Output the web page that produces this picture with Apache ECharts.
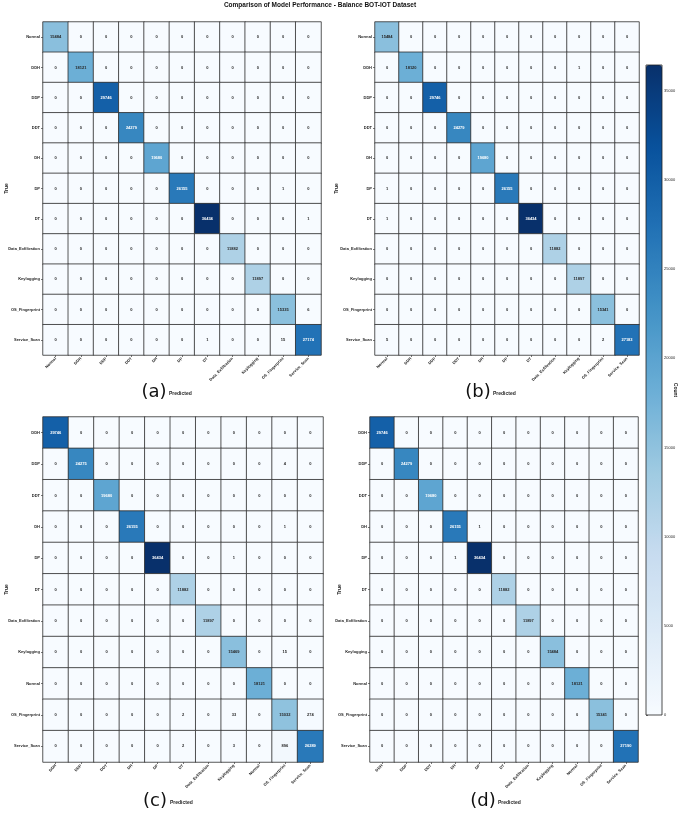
<!DOCTYPE html>
<html>
<head>
<meta charset="utf-8">
<script src="https://cdn.jsdelivr.net/npm/echarts@6/dist/echarts.min.js"></script>
<style>
  html, body { margin: 0; padding: 0; background: #ffffff; }
  #chart { width: 685px; height: 813px; }
</style>
</head>
<body>
<div id="chart"></div>
<script>
// Class orders used by the two pairs of confusion matrices
const labelsAB = ['Normal', 'DDH', 'DDP', 'DDT', 'DH', 'DP', 'DT', 'Data_Exfiltration', 'Keylogging', 'OS_Fingerprint', 'Service_Scan'];
const labelsCD = ['DDH', 'DDP', 'DDT', 'DH', 'DP', 'DT', 'Data_Exfiltration', 'Keylogging', 'Normal', 'OS_Fingerprint', 'Service_Scan'];

// Rows = true class, columns = predicted class
const matrixA = [
  [15484, 0, 0, 0, 0, 0, 0, 0, 0, 0, 0],
  [0, 18121, 0, 0, 0, 0, 0, 0, 0, 0, 0],
  [0, 0, 29746, 0, 0, 0, 0, 0, 0, 0, 0],
  [0, 0, 0, 24279, 0, 0, 0, 0, 0, 0, 0],
  [0, 0, 0, 0, 19680, 0, 0, 0, 0, 0, 0],
  [0, 0, 0, 0, 0, 26155, 0, 0, 0, 1, 0],
  [0, 0, 0, 0, 0, 0, 36434, 0, 0, 0, 1],
  [0, 0, 0, 0, 0, 0, 0, 11882, 0, 0, 0],
  [0, 0, 0, 0, 0, 0, 0, 0, 11897, 0, 0],
  [0, 0, 0, 0, 0, 0, 0, 0, 0, 15335, 6],
  [0, 0, 0, 0, 0, 0, 1, 0, 0, 15, 27174]
];
const matrixB = [
  [15484, 0, 0, 0, 0, 0, 0, 0, 0, 0, 0],
  [0, 18120, 0, 0, 0, 0, 0, 0, 1, 0, 0],
  [0, 0, 29746, 0, 0, 0, 0, 0, 0, 0, 0],
  [0, 0, 0, 24279, 0, 0, 0, 0, 0, 0, 0],
  [0, 0, 0, 0, 19680, 0, 0, 0, 0, 0, 0],
  [1, 0, 0, 0, 0, 26155, 0, 0, 0, 0, 0],
  [1, 0, 0, 0, 0, 0, 36434, 0, 0, 0, 0],
  [0, 0, 0, 0, 0, 0, 0, 11882, 0, 0, 0],
  [0, 0, 0, 0, 0, 0, 0, 0, 11897, 0, 0],
  [0, 0, 0, 0, 0, 0, 0, 0, 0, 15341, 0],
  [5, 0, 0, 0, 0, 0, 0, 0, 0, 2, 27183]
];
const matrixC = [
  [29746, 0, 0, 0, 0, 0, 0, 0, 0, 0, 0],
  [0, 24275, 0, 0, 0, 0, 0, 0, 0, 4, 0],
  [0, 0, 19680, 0, 0, 0, 0, 0, 0, 0, 0],
  [0, 0, 0, 26155, 0, 0, 0, 0, 0, 1, 0],
  [0, 0, 0, 0, 36434, 0, 0, 1, 0, 0, 0],
  [0, 0, 0, 0, 0, 11882, 0, 0, 0, 0, 0],
  [0, 0, 0, 0, 0, 0, 11897, 0, 0, 0, 0],
  [0, 0, 0, 0, 0, 0, 0, 15469, 0, 15, 0],
  [0, 0, 0, 0, 0, 0, 0, 0, 18121, 0, 0],
  [0, 0, 0, 0, 0, 2, 0, 33, 0, 15032, 274],
  [0, 0, 0, 0, 0, 2, 0, 3, 0, 896, 26289]
];
const matrixD = [
  [29746, 0, 0, 0, 0, 0, 0, 0, 0, 0, 0],
  [0, 24279, 0, 0, 0, 0, 0, 0, 0, 0, 0],
  [0, 0, 19680, 0, 0, 0, 0, 0, 0, 0, 0],
  [0, 0, 0, 26155, 1, 0, 0, 0, 0, 0, 0],
  [0, 0, 0, 1, 36434, 0, 0, 0, 0, 0, 0],
  [0, 0, 0, 0, 0, 11882, 0, 0, 0, 0, 0],
  [0, 0, 0, 0, 0, 0, 11897, 0, 0, 0, 0],
  [0, 0, 0, 0, 0, 0, 0, 15484, 0, 0, 0],
  [0, 0, 0, 0, 0, 0, 0, 0, 18121, 0, 0],
  [0, 0, 0, 0, 0, 0, 0, 0, 0, 15341, 0],
  [0, 0, 0, 0, 0, 0, 0, 0, 0, 0, 27190]
];

// Colour bar
const colorTicks = [0, 5000, 10000, 15000, 20000, 25000, 30000, 35000];
const countMin = 0;
const countMax = 36434;
const blues = ['#f7fbff', '#deebf7', '#c6dbef', '#9ecae1', '#6baed6', '#4292c6', '#2171b5', '#08519c', '#08306b'];

const titleText = 'Comparison of Model Performance - Balance BOT-IOT Dataset';
const panelTags = ['(a)', '(b)', '(c)', '(d)'];

const FONT = 'Liberation Sans, Arial, sans-serif';
const INK = '#1f1f1f';

// Panel geometry
const panels = [
  { labels: labelsAB, matrix: matrixA, left: 43,  top: 22,  width: 278, height: 333, tagX: 154, tagY: 392, trueX: 7   },
  { labels: labelsAB, matrix: matrixB, left: 375, top: 22,  width: 264, height: 333, tagX: 478, tagY: 392, trueX: 337 },
  { labels: labelsCD, matrix: matrixC, left: 43,  top: 417, width: 280, height: 345, tagX: 155, tagY: 801, trueX: 7   },
  { labels: labelsCD, matrix: matrixD, left: 370, top: 417, width: 268, height: 345, tagX: 483, tagY: 801, trueX: 340 }
];

const grids = [], xAxes = [], yAxes = [], series = [], graphics = [];

panels.forEach((p, i) => {
  grids.push({ left: p.left, top: p.top, width: p.width, height: p.height, containLabel: false });
  xAxes.push({
    type: 'category', gridIndex: i, data: p.labels, position: 'bottom',
    axisLine: { show: false },
    axisTick: { show: true, length: 2, alignWithLabel: true, lineStyle: { color: INK, width: 0.6 } },
    axisLabel: { interval: 0, rotate: 45, fontSize: 4, fontWeight: 'bold', fontFamily: FONT, color: INK, margin: 3 },
    splitLine: { show: false }
  });
  yAxes.push({
    type: 'category', gridIndex: i, data: p.labels, inverse: true,
    axisLine: { show: false },
    axisTick: { show: true, length: 2, alignWithLabel: true, lineStyle: { color: INK, width: 0.6 } },
    axisLabel: { interval: 0, fontSize: 4, fontWeight: 'bold', fontFamily: FONT, color: INK, margin: 3 },
    splitLine: { show: false }
  });

  const cells = [];
  p.matrix.forEach((row, r) => {
    row.forEach((v, c) => {
      cells.push({ value: [c, r, v], label: { color: v >= 19000 ? '#ffffff' : '#262626' } });
    });
  });
  series.push({
    type: 'heatmap', xAxisIndex: i, yAxisIndex: i, data: cells,
    itemStyle: { borderColor: '#2e2e2e', borderWidth: 0.8 },
    label: { show: true, fontSize: 4, fontWeight: 'bold', fontFamily: FONT, formatter: (d) => String(d.value[2]) },
    emphasis: { disabled: true }
  });

  const cy = p.top + p.height / 2;
  graphics.push({
    type: 'text', x: p.trueX, y: cy, rotation: Math.PI / 2,
    style: { text: 'True', fontSize: 5, fontWeight: 'bold', fontFamily: FONT, fill: INK, align: 'center', verticalAlign: 'middle' }
  });
  graphics.push({
    type: 'text', x: p.tagX, y: p.tagY,
    style: { text: panelTags[i], fontSize: 18, fontFamily: 'DejaVu Sans, sans-serif', fill: '#111', align: 'center', verticalAlign: 'middle' }
  });
  graphics.push({
    type: 'text', x: p.tagX + 15, y: p.tagY + 2,
    style: { text: 'Predicted', fontSize: 5, fontWeight: 'bold', fontFamily: FONT, fill: INK, align: 'left', verticalAlign: 'middle' }
  });
});

// Colour bar axis (ticks and frame)
const cbLeft = 646, cbTop = 65, cbWidth = 16, cbHeight = 650;
grids.push({ left: cbLeft, top: cbTop, width: cbWidth, height: cbHeight, show: true, z: 10,
  borderColor: '#222', borderWidth: 0.8, backgroundColor: 'transparent' });
xAxes.push({ type: 'value', gridIndex: 4, show: false, min: 0, max: 1 });
yAxes.push({
  type: 'value', gridIndex: 4, position: 'right', min: countMin, max: countMax,
  axisLine: { show: false },
  axisTick: { show: true, length: 2, customValues: colorTicks, lineStyle: { color: INK, width: 0.6 } },
  axisLabel: { fontSize: 4, fontFamily: FONT, color: INK, margin: 2, customValues: colorTicks,
    formatter: (v) => String(v) },
  splitLine: { show: false }
});

graphics.push({
  type: 'text', x: 675, y: cbTop + cbHeight / 2, rotation: -Math.PI / 2,
  style: { text: 'Count', fontSize: 5, fontWeight: 'bold', fontFamily: FONT, fill: INK, align: 'center', verticalAlign: 'middle' }
});
graphics.push({
  type: 'text', x: 320, y: 5,
  style: { text: titleText, fontSize: 6.5, fontWeight: 'bold', fontFamily: FONT, fill: '#111', align: 'center', verticalAlign: 'middle' }
});

const chart = echarts.init(document.getElementById('chart'), null, { renderer: 'canvas' });
chart.setOption({
  backgroundColor: '#ffffff',
  animation: false,
  grid: grids,
  xAxis: xAxes,
  yAxis: yAxes,
  visualMap: {
    type: 'continuous', min: countMin, max: countMax, seriesIndex: [0, 1, 2, 3], dimension: 2,
    inRange: { color: blues },
    orient: 'vertical', left: cbLeft, top: cbTop, itemWidth: cbWidth, itemHeight: cbHeight,
    padding: 0, calculable: false, hoverLink: false, realtime: false
  },
  series: series,
  graphic: graphics
});
</script>
</body>
</html>
